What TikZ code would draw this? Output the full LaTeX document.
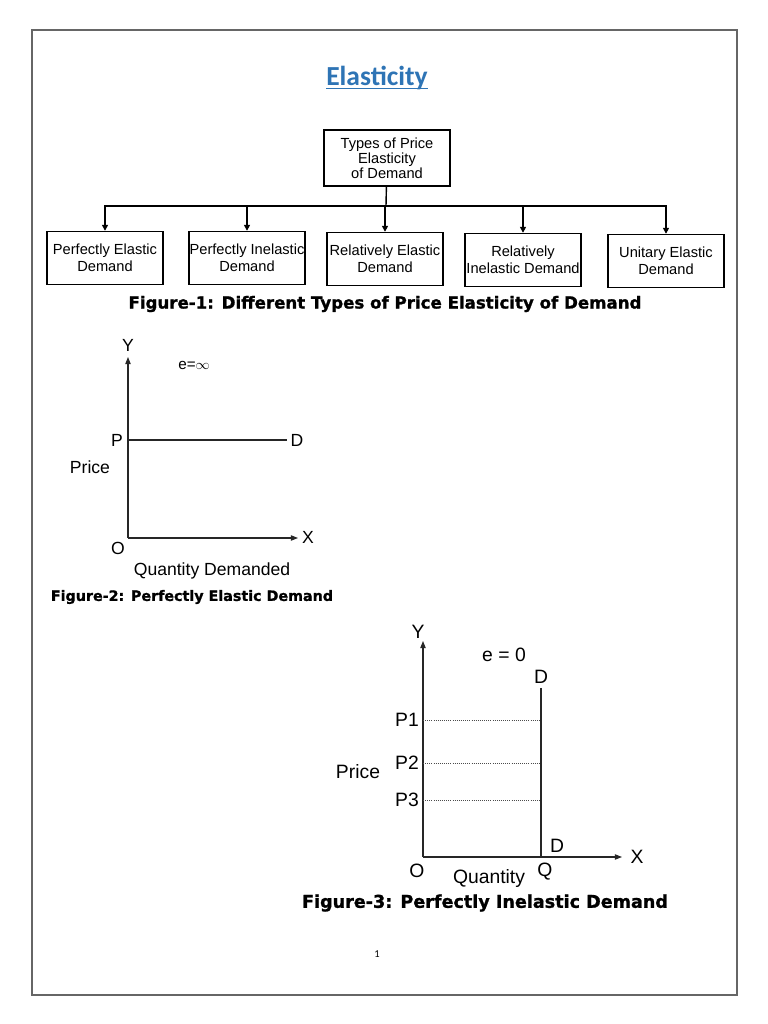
\documentclass[tikz,border=0pt]{standalone}
\usepackage{fontspec}
\setmainfont{Liberation Sans}
\newfontfamily\titlefont{Carlito}
\newfontfamily\capfont[BoldFeatures={FakeBold=1.2}]{DejaVu Sans}
\usetikzlibrary{positioning}
\usetikzlibrary{arrows.meta}
\definecolor{titleblue}{RGB}{46,116,181}
\tikzset{
    pageframe/.style = {draw=gray!80!black, line width=1pt},
    titletext/.style = {inner sep=0pt, text=titleblue, font=\titlefont\bfseries\fontsize{23.5}{25}\selectfont},
    rootbox/.style = {rectangle, line width=1.2pt, draw=black, align=center, inner sep=0pt, minimum width=3.78cm, minimum height=1.68cm, font=\fontsize{12.5}{13}\selectfont},
    typebox/.style = {rectangle, line width=1.2pt, draw=black, align=center, inner sep=0pt, minimum width=3.48cm, minimum height=1.59cm, font=\fontsize{12.5}{14.5}\selectfont},
    captext/.style = {font=\capfont\bfseries\fontsize{#1}{#1}\selectfont},
    axlabel/.style = {font=\fontsize{15}{17}\selectfont},
    biglabel/.style = {font=\fontsize{16.5}{18}\selectfont},
    smalllabel/.style = {font=\fontsize{13}{15}\selectfont},
    edgen/.style = {-, line width=1.2pt, black},
    edgea/.style = {-{Triangle[length=5pt,width=5pt]}, line width=1.2pt, black},
    axis/.style = {-{Triangle[length=6pt,width=4.5pt]}, line width=0.9pt, black!85},
    curve/.style = {-, line width=0.9pt, black!85},
    dline/.style = {-, line width=1.6pt, black!85},
    pline/.style = {-, line width=0.8pt, black!70, densely dotted}
}
\begin{document}
\begin{tikzpicture}[x=0.03cm,y=-0.03cm]
\useasboundingbox (0,0) rectangle (768,1024);
\draw[pageframe] (32,30) rectangle (737,995);
%
\node[titletext] at (377,78) (title) {Elasticity};
\draw[titleblue, line width=1.3pt] ([yshift=-2.5pt]title.base west) -- ([yshift=-2.5pt]title.base east);
%
\node[rootbox] at (387,158) (root) {Types of Price\\Elasticity\\of Demand};
\node[typebox] at (105,258) (pe) {Perfectly Elastic\\Demand};
\node[typebox] at (247,258) (pi) {Perfectly Inelastic\\Demand};
\node[typebox] at (385,259) (re) {Relatively Elastic\\Demand};
\node[typebox] at (523,260) (ri) {Relatively\\Inelastic Demand};
\node[typebox] at (666,261) (ue) {Unitary Elastic\\Demand};
\coordinate (split) at (386,206);
\node[captext=14.2] at (385,304) (cap1) {Figure-1: Different Types of Price Elasticity of Demand};
%
\draw[edgen] (root) -- (split);
\draw[edgea] (split) -| (pe);
\draw[edgea] (split) -| (pi);
\draw[edgea] (split) -| (re);
\draw[edgea] (split) -| (ri);
\draw[edgea] (split) -| (ue);
%
\coordinate (o2) at (128,538);
\coordinate (y2) at (128,357);
\coordinate (x2) at (298,538);
\coordinate (p2) at (128,440);
\node[axlabel] at (128,345) (ylab2) {Y};
\node[axlabel] at (308,537) (xlab2) {X};
\node[axlabel] at (118,548) (olab2) {O};
\node[axlabel] at (117,440) (plab2) {P};
\node[axlabel] at (297,440) (dlab2) {D};
\node[axlabel] at (90,467) (price2) {Price};
\node[smalllabel] at (194,365) (elab2) {e=$\infty$};
\node[axlabel] at (212,571) (qty2) {Quantity Demanded};
\node[captext=12.2] at (192,597) (cap2) {Figure-2: Perfectly Elastic Demand};
%
\draw[axis] (o2) -- (y2);
\draw[axis] (o2) -- (x2);
\draw[curve] (p2) -- (dlab2);
%
\coordinate (o3) at (423,857);
\coordinate (y3) at (423,641);
\coordinate (x3) at (622,857);
\coordinate (q3) at (541,857);
\coordinate (a1) at (423,720);
\coordinate (b1) at (541,720);
\coordinate (a2) at (423,763);
\coordinate (b2) at (541,763);
\coordinate (a3) at (423,800);
\coordinate (b3) at (541,800);
\node[biglabel] at (418,632) (ylab3) {Y};
\node[biglabel] at (504,655) (elab3) {e = 0};
\node[biglabel] at (541,677) (dtop3) {D};
\node[biglabel] at (407,720) (p1lab) {P1};
\node[biglabel] at (407,763) (p2lab) {P2};
\node[biglabel] at (407,800) (p3lab) {P3};
\node[biglabel] at (358,772) (price3) {Price};
\node[biglabel] at (557,846) (dbot3) {D};
\node[biglabel] at (637,857) (xlab3) {X};
\node[biglabel] at (417,871) (olab3) {O};
\node[biglabel] at (545,872) (qlab3) {Q};
\node[biglabel] at (489,878) (qty3) {Quantity};
\node[captext=15] at (485,903) (cap3) {Figure-3: Perfectly Inelastic Demand};
%
\draw[axis] (o3) -- (y3);
\draw[axis] (o3) -- (x3);
\draw[dline] (dtop3) -- (q3);
\draw[pline] (a1) -- (b1);
\draw[pline] (a2) -- (b2);
\draw[pline] (a3) -- (b3);
%
\node[font=\titlefont\fontsize{9}{10}\selectfont] at (377,954) (pagenum) {1};
\end{tikzpicture}
\end{document}
